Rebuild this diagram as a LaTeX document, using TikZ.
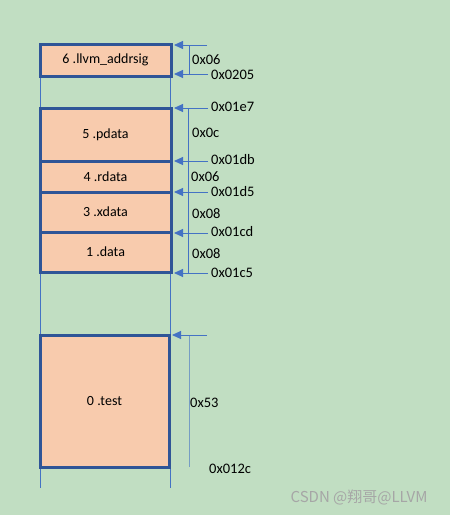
\documentclass[tikz,border=0pt]{standalone}
\usepackage{fontspec}
\setmainfont{Carlito}
\newfontfamily\cjkfont{Noto Sans CJK SC}
\usetikzlibrary{arrows.meta}
\definecolor{bggreen}{RGB}{193,222,194}
\definecolor{secfill}{RGB}{248,203,173}
\definecolor{secblue}{RGB}{47,85,151}
\definecolor{guideblue}{RGB}{68,114,196}
\tikzset{
  sect/.style={draw=secblue, line width=3pt, fill=secfill, minimum width=131pt,
    inner sep=0pt, font=\fontsize{14}{16}\selectfont},
  guide/.style={draw=guideblue, line width=0.9pt},
  addr/.style={guide, shorten >=1.5pt, -{Triangle[length=9pt,width=8pt]}},
  hexlbl/.style={anchor=west, inner sep=1pt, font=\fontsize{14.5}{16}\selectfont},
}
\begin{document}
\begin{tikzpicture}[x=1pt,y=-1pt]
 \useasboundingbox (0,0) rectangle (450,515);
 \fill[bggreen] (0,0) rectangle (450,515);
 % guide lines either side of the sections
 \coordinate (gl1) at (40,44);  \coordinate (gl2) at (40,488);
 \coordinate (gr1) at (170,44); \coordinate (gr2) at (170,488);
 \draw[guide] (gl1) -- (gl2);
 \draw[guide] (gr1) -- (gr2);
 % sections
 \node[sect, minimum height=32pt]  (s6) at (105.5,60)  {6 .llvm\_addrsig};
 \node[sect, minimum height=53pt]  (s5) at (105.5,134.5) {5 .pdata};
 \node[sect, minimum height=31pt]  (s4) at (105.5,176.5) {4 .rdata};
 \node[sect, minimum height=40pt]  (s3) at (105.5,212) {3 .xdata};
 \node[sect, minimum height=40pt]  (s1) at (105.5,252) {1 .data};
 \node[sect, minimum height=132pt, minimum width=129pt] (s0) at (104.5,401) {0 .test};
 % address arrows
 \coordinate (a6t) at (207,45);  \coordinate (a6b) at (208,74);
 \coordinate (a5t) at (208,108); \coordinate (a5b) at (208,161);
 \coordinate (a4b) at (208,192); \coordinate (a3b) at (208,233);
 \coordinate (a1b) at (208,273); \coordinate (a0t) at (207,335);
 \draw[addr] (a6t) -- (a6t -| s6.east);
 \draw[addr] (a6b) -- (a6b -| s6.east);
 \draw[addr] (a5t) -- (a5t -| s5.east);
 \draw[addr] (a5b) -- (a5b -| s5.east);
 \draw[addr] (a4b) -- (a4b -| s4.east);
 \draw[addr] (a3b) -- (a3b -| s3.east);
 \draw[addr] (a1b) -- (a1b -| s1.east);
 \draw[addr] (a0t) -- (a0t -| s0.east);
 % size brackets
 \coordinate (b6t) at (189,45);  \coordinate (b6b) at (189,74);
 \coordinate (b5t) at (188,109); \coordinate (b1b) at (188,273);
 \coordinate (b0t) at (189,335); \coordinate (b0b) at (189,467);
 \draw[guide] (b6t) -- (b6b);
 \draw[guide] (b5t) -- (b1b);
 \draw[guide, draw opacity=0.6] (b0t) -- (b0b);
 % labels
 \node[hexlbl] (n06a) at (191,60)  {0x06};
 \node[hexlbl] (n0205) at (210,75) {0x0205};
 \node[hexlbl] (n01e7) at (210,107) {0x01e7};
 \node[hexlbl] (n0c) at (191,133) {0x0c};
 \node[hexlbl] (n01db) at (210,160) {0x01db};
 \node[hexlbl] (n06b) at (190,177) {0x06};
 \node[hexlbl] (n01d5) at (210,192) {0x01d5};
 \node[hexlbl] (n08a) at (191,214) {0x08};
 \node[hexlbl] (n01cd) at (210,232) {0x01cd};
 \node[hexlbl] (n08b) at (191,254) {0x08};
 \node[hexlbl] (n01c5) at (210,273) {0x01c5};
 \node[hexlbl] (n53) at (189,403) {0x53};
 \node[hexlbl] (n012c) at (208,469) {0x012c};
 % watermark
 \node[text=black!35, font=\cjkfont\fontsize{15}{17}\selectfont] (wm) at (359,497) {CSDN @翔哥@LLVM};
\end{tikzpicture}
\end{document}
